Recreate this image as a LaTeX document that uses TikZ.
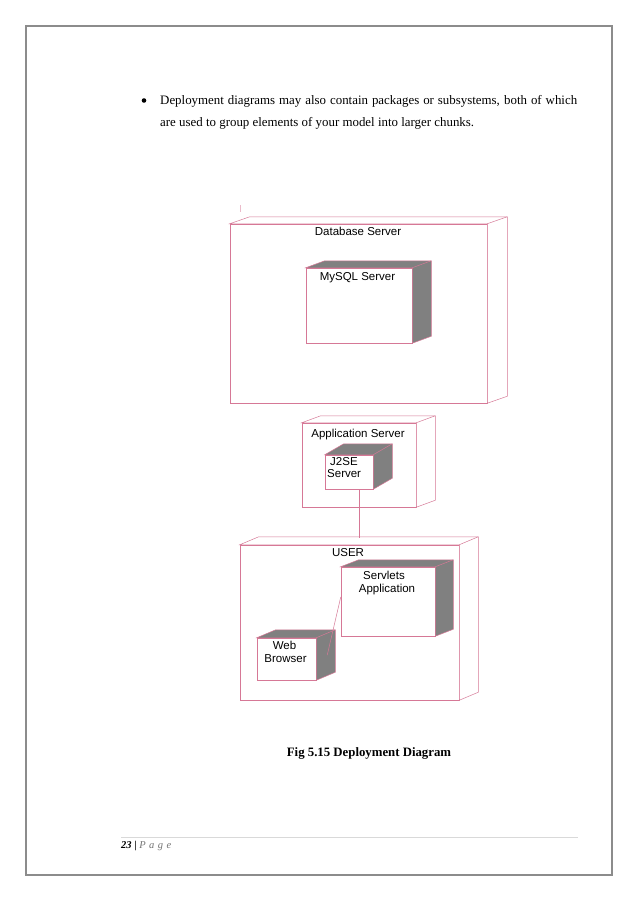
\documentclass[tikz,border=0pt]{standalone}
\usepackage{fontspec}
\setmainfont{Liberation Serif}
\newfontfamily\umlfont{Liberation Sans}
\definecolor{umlpink}{RGB}{214,120,150}
\definecolor{umlgray}{RGB}{128,128,128}
\definecolor{framegray}{RGB}{140,140,140}
% top and right faces of a 3D node: name, dx, dy, fill
\newcommand{\boxdepth}[4]{%
  \filldraw[edge,fill=#4] (#1.north west) -- ++(#2,-#3) -- ([shift={(#2,-#3)}]#1.north east)
    -- ([shift={(#2,-#3)}]#1.south east) -- (#1.south east) -- (#1.north east) -- cycle;
  \draw[edge] (#1.north east) -- ++(#2,-#3);}
\begin{document}
\begin{tikzpicture}
	[x=1pt,y=-1pt,
	 edge/.style={draw=umlpink,line width=0.5pt},
	 front/.style={edge,fill=white,inner sep=0pt},
	 lbl/.style={font=\umlfont\fontsize{11.5}{13}\selectfont,inner sep=0pt,anchor=base},
	 body/.style={font=\fontsize{12.9}{22.3}\selectfont,inner sep=0pt}]
	\useasboundingbox (0,0) rectangle (638,902);
	\draw[framegray,line width=1.8pt] (26,26) rectangle (612,875);
	% bullet text
	\node[circle,fill=black,inner sep=0pt,minimum size=4.6pt] (dot) at (144,100.5) {};
	\node[body,anchor=north west,text width=417pt,align=justify] (intro) at (160,95.2)
		{Deployment diagrams may also contain packages or subsystems, both of which are used to group elements of your model into larger chunks.};
	\draw[umlpink!50,line width=0.4pt] (240,205) -- (240,212);
	% Database Server
	\node[front,minimum width=257pt,minimum height=179pt] (db) at (358.5,313.5) {};
	\boxdepth{db}{20}{7}{white}
	\node[lbl] (dblbl) at (358,235.5) {Database Server};
	\node[front,minimum width=106pt,minimum height=75pt] (mysql) at (359,305.5) {};
	\boxdepth{mysql}{19}{7}{umlgray}
	\node[lbl] (mysqllbl) at (357.5,280) {MySQL Server};
	% Application Server
	\node[front,minimum width=114pt,minimum height=84pt] (app) at (359,465) {};
	\boxdepth{app}{19}{7}{white}
	\node[lbl] (applbl) at (358,437) {Application Server};
	\node[front,minimum width=48pt,minimum height=34pt] (j2se) at (349,472) {};
	\boxdepth{j2se}{19}{11}{umlgray}
	\node[lbl,anchor=base west] (j2selbla) at (330,465) {J2SE};
	\node[lbl,anchor=base west] (j2selblb) at (327,477) {Server};
	% USER
	\node[front,minimum width=219pt,minimum height=155pt] (user) at (349.5,622.5) {};
	\boxdepth{user}{19}{8}{white}
	\node[lbl] (userlbl) at (348,556) {USER};
	\node[front,minimum width=94pt,minimum height=69pt] (servlets) at (388,601.5) {};
	\boxdepth{servlets}{18}{7}{umlgray}
	\node[lbl] (servletslbla) at (384,579) {Servlets};
	\node[lbl] (servletslblb) at (387,592) {Application};
	\node[front,minimum width=59pt,minimum height=42pt] (web) at (286.5,659) {};
	\boxdepth{web}{19}{8}{umlgray}
	\node[lbl] (weblbla) at (284.5,649) {Web};
	\node[lbl] (weblblb) at (285.5,662) {Browser};
	% connectors
	\coordinate (usertop) at (359,538);
	\draw[edge] (j2se.south -| usertop) -- (usertop);
	\draw[edge] ([yshift=4.5pt]servlets.west) -- ([xshift=11pt,yshift=4pt]web.east);
	% caption and footer
	\node[body,font=\bfseries\fontsize{12.8}{15}\selectfont,anchor=base] (caption) at (369,756) {Fig 5.15 Deployment Diagram};
	\draw[black!15,line width=0.5pt] (121,837) -- (578,837);
	\node[inner sep=0pt,anchor=base west,font=\fontsize{10.5}{12}\selectfont] (pagenum) at (121,848)
		{\textbf{\textit{23}} \textbf{|} \textcolor{black!55}{\textit{P\,\,a\,\,g\,\,e}}};
\end{tikzpicture}
\end{document}
